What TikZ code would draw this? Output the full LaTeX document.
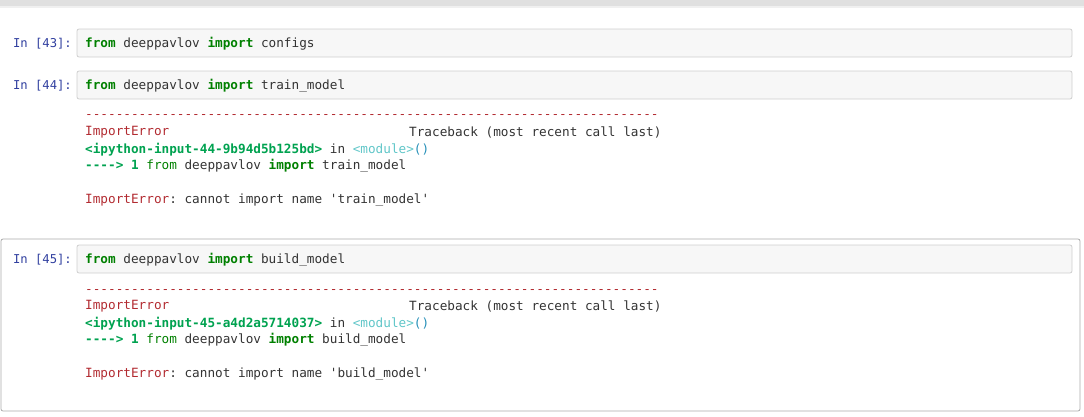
\documentclass[tikz,border=0pt]{standalone}
\usepackage{fontspec}
\setmonofont{DejaVu Sans Mono}
\definecolor{kw}{HTML}{008000}
\definecolor{pr}{HTML}{303F9F}
\definecolor{er}{HTML}{B22B31}
\definecolor{ip}{HTML}{00A250}
\definecolor{mo}{HTML}{60C6C8}
\definecolor{pa}{HTML}{258FB8}
\definecolor{tx}{HTML}{333333}
\begin{document}
\begin{tikzpicture}[x=1pt,y=-1pt,
  t/.style={anchor=west,inner sep=0pt,font=\ttfamily\fontsize{12.7}{14}\selectfont,text=tx},
  prompt/.style={anchor=east,inner sep=0pt,font=\ttfamily\fontsize{12.2}{14}\selectfont,text=pr},
  inbox/.style={draw=black!19,fill=black!3,rounded corners=2pt,line width=0.8pt}]
\useasboundingbox (0,0) rectangle (1084,416);
\fill[black!12] (0,0) rectangle (1084,6);
\fill[black!6] (0,6) rectangle (1084,8);
% cell 1
\draw[inbox] (77,29) rectangle (1072,57);
\node[prompt] (p1) at (72,44) {In [43]:};
\node[t] (c1) at (85,44) {\textcolor{kw}{\bfseries from} deeppavlov \textcolor{kw}{\bfseries import} configs};
% cell 2
\draw[inbox] (77,71) rectangle (1072,99);
\node[prompt] (p2) at (72,86) {In [44]:};
\node[t] (c2) at (85,86) {\textcolor{kw}{\bfseries from} deeppavlov \textcolor{kw}{\bfseries import} train\_model};
\node[t,text=er] (d2) at (85,117) {---------------------------------------------------------------------------};
\node[t,text=er] (e2) at (85,132) {ImportError};
\node[t] (tb2) at (409,132) {Traceback (most recent call last)};
\node[t] (i2) at (85,150) {\textcolor{ip}{\bfseries<ipython-input-44-9b94d5b125bd>} in \textcolor{mo}{<module>}\textcolor{pa}{()}};
\node[t] (a2) at (85,166) {\textcolor{ip}{\bfseries----> 1} \textcolor{kw}{from} deeppavlov \textcolor{kw}{\bfseries import} train\_model};
\node[t] (m2) at (85,200) {\textcolor{er}{ImportError}: cannot import name 'train\_model'};
% cell 3 (selected)
\draw[black!33,line width=0.8pt,rounded corners=2pt] (1,239) rectangle (1080,411);
\draw[inbox] (77,245) rectangle (1072,273);
\node[prompt] (p3) at (72,260) {In [45]:};
\node[t] (c3) at (85,260) {\textcolor{kw}{\bfseries from} deeppavlov \textcolor{kw}{\bfseries import} build\_model};
\node[t,text=er] (d3) at (85,291) {---------------------------------------------------------------------------};
\node[t,text=er] (e3) at (85,306) {ImportError};
\node[t] (tb3) at (409,306) {Traceback (most recent call last)};
\node[t] (i3) at (85,324) {\textcolor{ip}{\bfseries<ipython-input-45-a4d2a5714037>} in \textcolor{mo}{<module>}\textcolor{pa}{()}};
\node[t] (a3) at (85,340) {\textcolor{ip}{\bfseries----> 1} \textcolor{kw}{from} deeppavlov \textcolor{kw}{\bfseries import} build\_model};
\node[t] (m3) at (85,374) {\textcolor{er}{ImportError}: cannot import name 'build\_model'};
\end{tikzpicture}
\end{document}
